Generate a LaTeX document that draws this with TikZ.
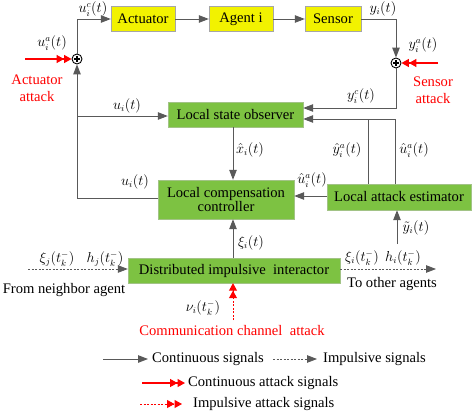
\documentclass[tikz,border=0pt]{standalone}
\usepackage{fontspec}
\setmainfont{Liberation Serif}
\usetikzlibrary{arrows.meta}
\definecolor{lgray}{HTML}{595959}
\definecolor{ygreen}{HTML}{7DC242}
\definecolor{yyel}{HTML}{F2F200}
\definecolor{ared}{HTML}{FF0000}
\begin{document}
\begin{tikzpicture}[x=1pt,y=-1pt,
  every node/.style={font=\fontsize{14.6}{14.6}\selectfont},
  ybox/.style={draw=gray!70, fill=yyel, minimum height=25pt, inner sep=0pt},
  gbox/.style={draw=ygreen!80!black!60, fill=ygreen, inner sep=0pt, align=center},
  sumc/.style={draw=black, circle, minimum size=10pt, inner sep=0pt, line width=0.9pt},
  plus/.style={draw=black, line width=1.1pt},
  lbl/.style={font=\fontsize{13.5}{13.5}\selectfont, inner sep=0pt},
  arr/.style={draw=lgray, line width=1pt, -{Triangle[length=10pt,width=7.5pt]}},
  ln/.style={draw=lgray, line width=1pt},
  darr/.style={draw=lgray, line width=0.8pt, dash pattern=on 2pt off 1.5pt, -{Triangle[length=10pt,width=7.5pt]}},
  rarr/.style={draw=ared, line width=1.3pt, -{Triangle[length=7.5pt,width=8pt]Triangle[length=7.5pt,width=8pt]}},
  rdarr/.style={draw=ared, line width=1pt, dash pattern=on 2pt off 1.5pt, -{Triangle[length=7.5pt,width=8pt]Triangle[length=7.5pt,width=8pt]}},
  rtext/.style={text=ared, align=center, inner sep=0pt}
]
\useasboundingbox (0,0) rectangle (474,415);
% blocks
\node[ybox, minimum width=64pt] (act) at (143,19) {Actuator};
\node[ybox, minimum width=64pt] (agent) at (241,19) {Agent i};
\node[ybox, minimum width=56pt] (sens) at (333,19) {Sensor};
\node[gbox, minimum width=135pt, minimum height=25pt] (obs) at (235.5,114.5) {Local state observer};
\node[gbox, minimum width=136pt, minimum height=39pt] (ctrl) at (226,199.5) {Local compensation\\controller};
\node[gbox, minimum width=144pt, minimum height=26pt] (est) at (399,197) {Local attack estimator};
\node[gbox, minimum width=212pt, minimum height=25pt] (inter) at (234,270.5) {Distributed impulsive\ \ interactor};
\node[sumc] (s1) at (77,59) {};
\node[sumc] (s2) at (396,63) {};
\draw[plus] ([yshift=-2.2pt]s1.north) -- ([yshift=2.2pt]s1.south);
\draw[plus] ([xshift=2.2pt]s1.west) -- ([xshift=-2.2pt]s1.east);
\draw[plus] ([yshift=-2.2pt]s2.north) -- ([yshift=2.2pt]s2.south);
\draw[plus] ([xshift=2.2pt]s2.west) -- ([xshift=-2.2pt]s2.east);
% coordinates for free ends
\coordinate (ua) at (25,59);
\coordinate (sa) at (438,63);
\coordinate (nb) at (28,269);
\coordinate (oa) at (436,269);
\coordinate (ca) at (233,320);
\coordinate (yt) at (397,244);
\coordinate (jn) at (368,119);
% connectors
\draw[arr] (s1.north) |- (act.west);
\draw[arr] (act) -- (agent);
\draw[arr] (agent) -- (sens);
\draw[arr] (sens.east) -| (s2.north);
\draw[arr] (s2.south) |- (obs.east |- 0,108);
\draw[arr] (ctrl.west |- 0,198) -| (s1.south);
\draw[arr] (s1 |- 0,116) -- (obs.west |- 0,116);
\draw[arr] (obs.south -| 233,0) -- (ctrl.north -| 233,0);
\draw[arr] (est.north -| 395,0) |- (obs.east |- jn);
\draw[ln] (est.north -| jn) -- (jn);
\draw[arr] (est.west |- 0,196) -- (ctrl.east |- 0,196);
\draw[arr] (yt) -- (est.south -| yt);
\draw[arr] (inter.north -| 233,0) -- (ctrl.south -| 233,0);
\draw[darr] (nb) -- (inter.west |- nb);
\draw[darr] (inter.east |- oa) -- (oa);
\draw[rarr] (ua) -- (s1.west);
\draw[rarr] (sa) -- (s2.east);
\draw[rdarr] (ca) -- (inter.south -| ca);
% labels
\node[lbl] (l1) at (93,9) {$u_i^c(t)$};
\node[lbl] (l2) at (52,43) {$u_i^a(t)$};
\node[rtext] (l3) at (37,88) {Actuator\\[2pt]attack};
\node[lbl] (l4) at (127,106) {$u_i(t)$};
\node[lbl] (l5) at (383,9) {$y_i(t)$};
\node[lbl] (l6) at (423,45) {$y_i^a(t)$};
\node[rtext] (l7) at (433,90) {Sensor\\[2pt]attack};
\node[lbl] (l8) at (361,96) {$y_i^c(t)$};
\node[lbl] (l9) at (135,182) {$u_i(t)$};
\node[lbl] (l10) at (250,150) {$\hat{x}_i(t)$};
\node[lbl] (l11) at (347,150) {$\hat{y}_i^a(t)$};
\node[lbl] (l12) at (414,150) {$\hat{u}_i^a(t)$};
\node[lbl] (l13) at (312,180) {$\hat{u}_i^a(t)$};
\node[lbl] (l14) at (416,228) {$\tilde{y}_i(t)$};
\node[lbl] (l15) at (251,243) {$\xi_i(t)$};
\node[lbl] (l16) at (57,259) {$\xi_j(t_k^-)$};
\node[lbl] (l17) at (105,259) {$h_j(t_k^-)$};
\node[inner sep=0pt] (l18) at (64,290) {From neighbor agent};
\node[lbl] (l19) at (362,258) {$\xi_i(t_k^-)$};
\node[lbl] (l20) at (403,258) {$h_i(t_k^-)$};
\node[inner sep=0pt] (l21) at (392,284) {To other agents};
\node[lbl] (l22) at (203,308) {$\nu_i(t_k^-)$};
\node[rtext] (l23) at (232,331) {Communication channel\ \ attack};
% legend
\coordinate (g1a) at (103,359); \coordinate (g1b) at (148,359);
\draw[arr] (g1a) -- (g1b);
\node[inner sep=0pt, anchor=west] (t1) at (152,359) {Continuous signals};
\coordinate (g2a) at (273,359); \coordinate (g2b) at (317,359);
\draw[darr] (g2a) -- (g2b);
\node[inner sep=0pt, anchor=west] (t2) at (323,359) {Impulsive signals};
\coordinate (g3a) at (142,383); \coordinate (g3b) at (185,383);
\draw[rarr] (g3a) -- (g3b);
\node[inner sep=0pt, anchor=west] (t3) at (188,383) {Continuous attack signals};
\coordinate (g4a) at (140,404); \coordinate (g4b) at (182,404);
\draw[rdarr] (g4a) -- (g4b);
\node[inner sep=0pt, anchor=west] (t4) at (193,404) {Impulsive attack signals};
\end{tikzpicture}
\end{document}
